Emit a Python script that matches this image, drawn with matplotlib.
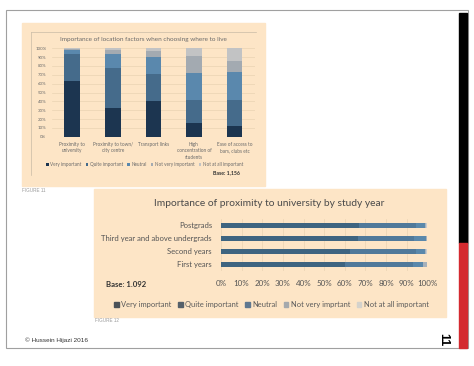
import matplotlib
matplotlib.use("Agg")
import matplotlib.pyplot as plt
from matplotlib.patches import Rectangle, Patch
import numpy as np

# ---------------- data ----------------
factors = ["Proximity to\nuniversity", "Proximity to town/\ncity centre", "Transport links",
           "High\nconcentration of\nstudents", "Ease of access to\nbars, clubs etc"]
top_levels = ["Very important", "Quite important", "Neutral", "Not very important", "Not at all important"]
top_very = [63, 33, 40, 16, 12]
top_quite = [31, 45, 31, 25, 30]
top_neutral = [4, 16, 19, 31, 31]
top_notvery = [1.5, 4, 7, 19, 13]
top_notatall = [0.5, 2, 3, 9, 14]

years = ["Postgrads", "Third year and above undergrads", "Second years", "First years"]
bot_levels = ["Very important", "Quite important", "Neutral", "Not very imprtant", "Not at all important"]
yr_very = [67, 66.5, 62.5, 60]
yr_quite = [27.5, 27, 32, 33]
yr_neutral = [4.5, 6, 4.5, 5]
yr_notvery = [0.5, 0.3, 0.5, 1.7]
yr_notatall = [0.5, 0.2, 0.5, 0.3]
pct_ticks = [0, 10, 20, 30, 40, 50, 60, 70, 80, 90, 100]

# ---------------- style ----------------
W, H = 474, 366
PEACH = "#fde5c6"
GRID = "#ead3b3"
top_colors = ["#1c3550", "#456b8b", "#5a88ad", "#a3aab1", "#c2c3c4"]
bot_colors = ["#3e6480", "#50799a", "#5a88ab", "#a6b1bb", "#c9cdd1"]
bot_legend_colors = ["#4b5258", "#55606a", "#5f7890", "#a5a9ad", "#d4d2cc"]
CHART_FONT = ["Lato", "DejaVu Sans"]
SLIDE_FONT = ["Liberation Sans", "DejaVu Sans"]

fig = plt.figure(figsize=(W / 100, H / 100), dpi=100)
fig.patch.set_facecolor("white")


def axes_px(x0, y0, x1, y1, **kw):
    return fig.add_axes([x0 / W, 1 - y1 / H, (x1 - x0) / W, (y1 - y0) / H], **kw)


bg = fig.add_axes([0, 0, 1, 1], zorder=0)
bg.set_xlim(0, W)
bg.set_ylim(H, 0)
bg.axis("off")

# slide frame and side bar
bg.add_patch(Rectangle((6, 9.5), 462, 338.5, fill=False, ec="#a0a0a0", lw=0.8))
bg.add_patch(Rectangle((459, 13), 8.5, 230, color="black"))
bg.add_patch(Rectangle((459, 243), 8.5, 105, color="#d42a2f"))

# panels
bg.add_patch(Rectangle((21.7, 22.7), 243.3, 163, color=PEACH))
bg.plot([31, 31], [32, 175], color="#c9bba6", lw=0.5)
bg.plot([31, 255.7], [31.7, 31.7], color="#c9bba6", lw=0.5)
bg.add_patch(Rectangle((94, 189.3), 351.7, 127.4, color=PEACH))

# ---------------- top chart ----------------
ax1 = axes_px(51.9, 48.3, 254.8, 136.7, zorder=2)
ax1.set_facecolor("none")
x = np.arange(len(factors))
bottom = np.zeros(len(factors))
for vals, col, lab in zip([top_very, top_quite, top_neutral, top_notvery, top_notatall], top_colors, top_levels):
    v = np.array(vals) / 100
    ax1.bar(x, v, 0.385, bottom=bottom, color=col, label=lab, zorder=3)
    bottom += v
ax1.set_xlim(-0.5, len(factors) - 0.5)
ax1.set_ylim(0, 1)
ax1.set_yticks([p / 100 for p in pct_ticks])
ax1.set_yticklabels([f"{p}%" for p in pct_ticks], fontsize=3.2, color="#6a6a6a", family=CHART_FONT)
ax1.set_xticks(x)
ax1.set_xticklabels(factors, fontsize=3.4, color="#6a6a6a", family=CHART_FONT, linespacing=1.3, va="top")
ax1.tick_params(length=0, pad=4)
ax1.tick_params(axis="y", pad=4)
ax1.grid(axis="y", color=GRID, lw=0.5, zorder=0)
ax1.set_axisbelow(True)
for s in ax1.spines.values():
    s.set_visible(False)
ax1.legend(loc="center", bbox_to_anchor=(144.5 / W, 1 - 164.7 / H), bbox_transform=fig.transFigure,
           ncol=5, frameon=False, prop={"family": CHART_FONT, "size": 3.3}, labelcolor="#6a6a6a",
           handlelength=0.6, handleheight=0.6, handletextpad=0.3, columnspacing=0.9)

bg.text(143, 40, "Importance of location factors when choosing where to live", ha="center", va="center",
        fontsize=4.6, color="#6a6a6a", family=CHART_FONT)
bg.text(240, 172.5, "Base: 1,156", ha="right", va="center", fontsize=3.8, color="#333333",
        family=CHART_FONT, fontweight="bold")
bg.text(21.7, 190.7, "FIGURE 11", ha="left", va="center", fontsize=3.3, color="#9a9a9a", family=SLIDE_FONT)

# ---------------- bottom chart ----------------
ax2 = axes_px(221, 218.8, 427.3, 270.8, zorder=2)
ax2.set_facecolor("none")
y = np.arange(len(years))
left = np.zeros(len(years))
for vals, col, lab in zip([yr_very, yr_quite, yr_neutral, yr_notvery, yr_notatall], bot_colors, bot_levels):
    v = np.array(vals) / 100
    ax2.barh(y, v, 0.41, left=left, color=col, zorder=3)
    left += v
ax2.set_ylim(len(years) - 0.5, -0.5)
ax2.set_xlim(0, 1)
ax2.set_yticks(y)
ax2.set_yticklabels(years, fontsize=5.5, color="#555555", family=CHART_FONT)
ax2.set_xticks([p / 100 for p in pct_ticks])
ax2.set_xticklabels([f"{p}%" for p in pct_ticks], fontsize=5.8, color="#555555", family=CHART_FONT)
ax2.tick_params(length=0)
ax2.tick_params(axis="y", pad=6.5)
ax2.tick_params(axis="x", pad=6.8)
ax2.grid(axis="x", color=GRID, lw=0.5, zorder=0)
ax2.set_axisbelow(True)
for s in ax2.spines.values():
    s.set_visible(False)
handles = [Patch(color=c, label=l) for c, l in zip(bot_legend_colors, bot_levels)]
ax2.legend(handles=handles, loc="center", bbox_to_anchor=(271.5 / W, 1 - 304.3 / H),
           bbox_transform=fig.transFigure, ncol=5, frameon=False,
           prop={"family": CHART_FONT, "size": 5.4}, labelcolor="#5a5a5a",
           handlelength=0.6, handleheight=0.6, handletextpad=0.3, columnspacing=0.9)

bg.text(269, 203, "Importance of proximity to university by study year", ha="center", va="center",
        fontsize=7.4, color="#4a4a4a", family=CHART_FONT)
bg.text(106, 284.5, "Base: 1.092", ha="left", va="center", fontsize=5.6, color="#333333",
        family=CHART_FONT, fontweight="bold")
bg.text(94.7, 320.5, "FIGURE 12", ha="left", va="center", fontsize=3.3, color="#9a9a9a", family=SLIDE_FONT)

# footer
bg.text(25.3, 340.5, "\u00a9 Hussein Hijazi 2016", ha="left", va="center", fontsize=4.6, color="#333333",
        family=SLIDE_FONT)
bg.text(443, 340, "11", ha="center", va="center", fontsize=9, color="black", rotation=-90,
        family=SLIDE_FONT, fontweight="bold")

fig.savefig("out.png", dpi=100, facecolor="white")
